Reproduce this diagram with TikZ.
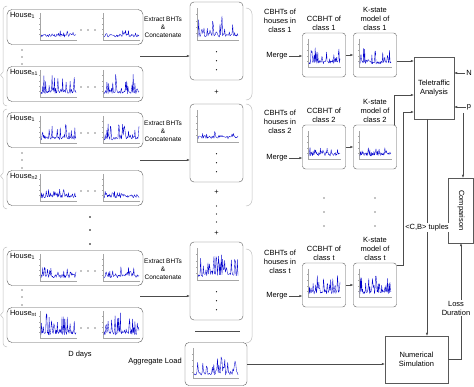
\documentclass[tikz,border=0pt]{standalone}
\usepackage{fontspec}
\usepackage{graphicx}
\setmainfont{Liberation Sans}
\usetikzlibrary{arrows.meta,positioning}

% small signal thumbnail: x, top y, width, height, spike size
\newcommand{\sigplot}[5]{%
  \draw[axisline] (#1,#2) -- (#1,#2+#4) -- (#1+#3,#2+#4);
  \foreach \tk in {1,...,4}{\draw[axisline] (#1,#2+\tk*#4/5) -- ++(-1.2,0);}
  \draw[sigline] (#1+1,#2+#4-3)
    \foreach \k in {1,...,60}{ -- ({#1+1+\k*(#3-2)/60},{#2+#4-3-3*rnd-#5*rnd^4}) };
}
% one house row: name, centre y, subscript, spike size
\newcommand{\housebox}[4]{%
  \node[house] (#1) at (75,#2) {};
  \node[hlabel] (#1-name) at ([xshift=2pt,yshift=-2pt]#1.north west) {House\textsubscript{#3}};
  \sigplot{40}{#2-14}{37}{27}{#4}
  \sigplot{103}{#2-14}{37}{27}{#4}
  \foreach \xd in {81,88,95}{\fill (\xd,#2+3) circle (0.6);}
}

\begin{document}
\begin{tikzpicture}[
  x=1pt,y=-1pt,
  font=\fontsize{7.5}{9}\selectfont,
  house/.style={draw=black!65, rounded corners=5pt, minimum width=136pt, minimum height=35pt, inner sep=0pt},
  hlabel/.style={anchor=north west, inner sep=1pt},
  cbox/.style={draw=black!65, rounded corners=4pt, minimum width=53pt, minimum height=78pt, inner sep=0pt},
  pbox/.style={draw=black!65, rounded corners=3pt, minimum width=43pt, minimum height=44pt, inner sep=0pt},
  blk/.style={draw=black!65, align=center, inner sep=1pt},
  lbl/.style={align=center, inner sep=1pt},
  small/.style={align=center, inner sep=1pt, font=\fontsize{6.5}{8}\selectfont},
  arr/.style={-{Latex[length=3pt,width=2.5pt]}, draw=black!70, line width=0.4pt},
  brk/.style={draw=black!25, line width=0.5pt},
  axisline/.style={draw=black!35, line width=0.2pt},
  sigline/.style={draw=blue!80!black, line width=0.35pt, line join=round}
]
\pgfmathsetseed{11}
\useasboundingbox (0,0) rectangle (474,387);

% houses of the three classes
\housebox{ha1}{27}{1}{4}
\housebox{han}{84}{n1}{18}
\housebox{hb1}{130}{1}{14}
\housebox{hbn}{188}{n2}{6}
\housebox{hc1}{268}{1}{10}
\housebox{hcn}{325}{nt}{20}
\foreach \yy in {50,57,64,153,160,168,290,297,305} \fill (22,\yy) circle (0.6);
\foreach \yy in {217,230,244} \fill (90,\yy) circle (0.8);
\foreach \t/\b/\n in {6/106/75,109/209/176,247/347/315}
  \draw[brk] (7,\t) to[out=180,in=90] (3,\t+4) -- (3,\n-3) -- (0.5,\n) -- (3,\n+3) -- (3,\b-4) to[out=-90,in=180] (7,\b);
\node[lbl] (dd) at (80,355) {D days};

\node[small] (ext1) at (163,27) {Extract BHTs\\\&\\Concatenate};
\node[small] (ext2) at (163,131) {Extract BHTs\\\&\\Concatenate};
\node[small] (ext3) at (163,269) {Extract BHTs\\\&\\Concatenate};
\coordinate (src1) at (140,56);
\coordinate (src2) at (140,160);
\coordinate (src3) at (140,296);

% concatenated traces
\node[cbox] (cat1) at (216.5,41) {};
\node[cbox] (cat2) at (216.5,143) {};
\node[cbox] (cat3) at (216.5,281) {};
\sigplot{197}{8}{42}{32}{20}
\sigplot{197}{110}{42}{32}{6}
\sigplot{197}{248}{42}{32}{24}
\foreach \c in {1,2,3}{
  \draw[arr] (src\c) -- (src\c -| cat\c.west);
  \foreach \s in {50,59,68} \fill ([yshift=-\s pt]cat\c.north) circle (0.6);
}
\node (plus1) at (216.5,92) {+};
\node (plus2) at (216.5,192) {+};
\node (plus3) at (216.5,233) {+};
\foreach \yy in {206,214,222} \fill (216.5,\yy) circle (0.6);
\draw[draw=black!70, line width=0.5pt] (195,331) -- (240,331);
\node[cbox, minimum width=62pt, minimum height=43pt] (agg) at (216,364) {};
\sigplot{193}{348}{46}{30}{18}
\node[lbl] (agglbl) at (155,362) {Aggregate Load};
\foreach \t/\b in {8/100,104/206,249/343}
  \draw[brk] (246,\t) to[out=0,in=90] (252,\t+6) -- (252,\b-6) to[out=-90,in=0] (246,\b);

% merged traces and models
\node[lbl] (cb1) at (280,21) {CBHTs of\\houses in\\class 1};
\node[lbl] (cb2) at (280,122) {CBHTs of\\houses in\\class 2};
\node[lbl] (cb3) at (280,262) {CBHTs of\\houses in\\class t};
\node[lbl] (mg1) at (277,56) {Merge};
\node[lbl] (mg2) at (277,158) {Merge};
\node[lbl] (mg3) at (277,296) {Merge};
\node[pbox] (cc1) at (324,55) {};
\node[pbox] (cc2) at (324,147) {};
\node[pbox] (cc3) at (324,285) {};
\node[pbox] (ks1) at (375,55) {};
\node[pbox] (ks2) at (375,147) {};
\node[pbox] (ks3) at (375,285) {};
\sigplot{308}{39}{33}{28}{16}
\sigplot{359}{39}{33}{28}{16}
\sigplot{308}{131}{33}{28}{8}
\sigplot{359}{131}{33}{28}{8}
\sigplot{308}{269}{33}{28}{18}
\sigplot{359}{269}{33}{28}{18}
\foreach \i in {1,2,3}{
  \node[lbl, above=1pt of cc\i] (cct\i) {CCBHT of\\class \ifnum\i=3 t\else\i\fi};
  \node[lbl, above=1pt of ks\i] (kst\i) {K-state\\model of\\class \ifnum\i=3 t\else\i\fi};
  \draw[arr] (mg\i.east) -- (mg\i.east -| cc\i.west);
  \draw[arr] (cc\i) -- (ks\i);
}
\foreach \yy in {198,212,226}{\fill (324,\yy) circle (0.7); \fill (375,\yy) circle (0.7);}

% analysis part
\node[blk, minimum width=40pt, minimum height=62pt] (tele) at (434,88) {Teletraffic\\Analysis};
\node[lbl] (nin) at (469,73) {N};
\node[lbl] (pin) at (469,107) {p};
\node[blk, minimum width=25pt, minimum height=65pt] (comp) at (461,210.5) {\rotatebox{-90}{Comparison}};
\node[blk, minimum width=63pt, minimum height=47pt] (ns) at (416.5,359.5) {Numerical\\Simulation};
\coordinate (pdown) at (463,113);

\draw[arr] ([yshift=-6pt]ks1.east) -- ([yshift=-6pt]ks1.east -| tele.west);
\draw[arr] ([xshift=-3pt]ks2.north east) |- ([yshift=-7pt]tele.west);
\draw[arr] ([yshift=-2pt]ks3.north east) -- ++(6,0) |- ([yshift=-24pt]tele.west);
\draw[arr] (nin) -- (nin -| tele.east);
\draw[arr] (pin) -- (pin -| tele.east);
\draw[arr] (pdown) -- (pdown |- comp.north);
\draw[arr] ([xshift=-7pt]tele.south) -- ([xshift=-7pt]tele.south |- ns.north)
  node[midway, fill=white, inner sep=1pt] {<C,B> tuples};
\draw[arr] (ns.east) -| (comp.south)
  node[pos=0.72, fill=white, align=center, inner sep=1pt, xshift=-5pt] {Loss\\Duration};
\draw[arr] (agg.east) -- (agg.east -| ns.west);
\end{tikzpicture}
\end{document}
